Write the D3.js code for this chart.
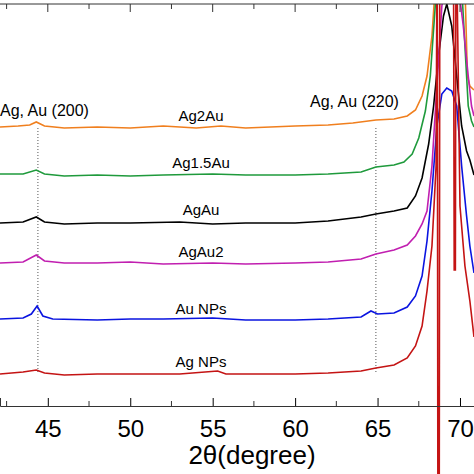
<!DOCTYPE html>
<meta charset="utf-8">
<style>
body { margin:0; background:#fff; }
svg text { font-family: Arial, "Liberation Sans", sans-serif; }
</style>
<body>
<div id="chart"></div>
<script src="https://d3js.org/d3.v7.min.js"></script>
<script>
// XRD patterns, [2theta, intensity (arb., stacked offset included)]
var ag2au   = [[42.1,279],[43.2,280],[43.9,281],[44.3,284],[44.8,280],[46,278],[48,279],[50,278],[52,280],[54,278],[55.5,280],[57,278],[60,280],[62,281],[63.5,283],[64.9,286],[66,287],[66.8,290],[67.3,296],[67.7,310],[68.0,330],[68.3,370],[68.5,420],[70.3,420],[70.45,330],[70.6,320],[70.85,316]];
var ag15au  = [[42.1,232],[43.5,232],[44.3,236],[44.8,232],[46,230],[48,231],[50,230],[52,231],[55,232],[57,231],[60,231],[62,232],[64,234],[64.9,239],[66,241],[66.6,244],[67.1,252],[67.5,268],[67.9,295],[68.2,330],[68.5,400],[68.7,420],[70.1,420],[70.3,360],[70.5,300],[70.7,285],[70.85,279]];
var agau    = [[42.1,183],[43.5,184],[44.3,189],[44.8,184],[46,182],[48,183],[50,183],[53,184],[55,182],[57,183],[60,183],[62,185],[64,189],[64.9,192],[66,195],[66.8,198],[67.3,210],[67.7,228],[68.1,262],[68.4,300],[68.7,350],[69.0,390],[69.2,402],[69.5,380],[69.8,330],[70.1,280],[70.4,255],[70.6,246],[70.85,231]];
var agau2   = [[42.1,143],[43.5,144],[44.3,151],[44.8,145],[46,143],[48,143],[50,144],[52,142],[55,143],[57,142],[60,143],[62,144],[64,147],[64.9,152],[66,156],[66.8,161],[67.3,170],[67.7,182],[68.0,195],[68.3,240],[68.6,320],[68.9,400],[69.1,420],[69.9,420],[70.2,380],[70.5,330],[70.7,300],[70.85,290]];
var auNPs   = [[42.1,87],[43.5,88],[44.0,92],[44.35,100],[44.7,90],[45.3,87],[48,86],[50,87],[52,87],[55,88],[57,86],[60,86],[62,87],[64,89],[64.6,95],[65,92],[66,93],[66.8,99],[67.3,110],[67.7,130],[68.0,165],[68.3,215],[68.6,280],[68.9,312],[69.2,318],[69.5,315],[69.8,300],[70.1,240],[70.4,190],[70.6,160],[70.85,133]];
var agNPs   = [[42.1,32],[43.5,34],[44.3,36],[44.8,33],[46,31],[48,32],[50,32],[53,32],[55.3,35],[55.8,32],[58,32],[60,32],[62,33],[64,35],[64.9,38],[66,41],[66.8,48],[67.3,60],[67.7,80],[68.0,115],[68.3,160],[68.55,240],[68.62,500],[68.66,-120],[68.74,-120],[68.78,500],[69.6,500],[69.65,136],[69.72,136],[69.76,500],[70.0,200],[70.3,140],[70.6,105],[70.85,69]];

var series = [ag2au, ag15au, agau, agau2, auNPs, agNPs];
var colors = ["#f07f1e", "#1f9a3c", "#000000", "#c11fb0", "#0a14e0", "#c41414"];
var names  = ["Ag2Au", "Ag1.5Au", "AgAu", "AgAu2", "Au NPs", "Ag NPs"];
var nameY  = [285, 238, 191, 149, 92, 39];   // intensity where the label sits
var peakLines = [44.4, 64.9];
var xTicks = [45, 50, 55, 60, 65, 70];

var W = 474, H = 474;
var x = d3.scaleLinear().domain([42.1, 70.85]).range([0, 474]);
var y = d3.scaleLinear().domain([0, 402]).range([406, 4]);

var svg = d3.select("#chart").append("svg").attr("width", W).attr("height", H);

svg.append("clipPath").attr("id", "clip").append("rect")
    .attr("x", 0).attr("y", 4).attr("width", W).attr("height", H - 4);

// dotted reference lines
svg.selectAll(".ref").data(peakLines).enter().append("line")
    .attr("x1", d => x(d)).attr("x2", d => x(d))
    .attr("y1", y(278)).attr("y2", y(34))
    .attr("stroke", "#555").attr("stroke-width", 1).attr("stroke-dasharray", "1,2");

var line = d3.line().x(d => x(d[0])).y(d => y(d[1]));
svg.append("g").attr("clip-path", "url(#clip)")
  .selectAll("path").data(series).enter().append("path")
    .attr("d", line).attr("fill", "none")
    .attr("stroke", (d, i) => colors[i]).attr("stroke-width", 1.6);

// frame: top + bottom
svg.append("line").attr("x1", 0).attr("x2", W).attr("y1", 4).attr("y2", 4).attr("stroke", "#333");
var xAxis = svg.append("g").attr("transform", "translate(0,406)")
    .call(d3.axisBottom(x).tickValues(xTicks).tickSize(-8).tickPadding(14).tickFormat(d3.format("d")));
xAxis.select(".domain").attr("stroke", "#333");
xAxis.selectAll("text").attr("font-size", 24).attr("fill", "#000").attr("font-family", "Arial, Liberation Sans");
var minors = [42.5, 47.5, 52.5, 57.5, 62.5, 67.5];
svg.selectAll(".mb").data(minors).enter().append("line")
    .attr("x1", d => x(d)).attr("x2", d => x(d)).attr("y1", 406).attr("y2", 401).attr("stroke", "#333");
svg.selectAll(".mt").data(minors.concat(xTicks)).enter().append("line")
    .attr("x1", d => x(d)).attr("x2", d => x(d)).attr("y1", 4)
    .attr("y2", d => minors.indexOf(d) >= 0 ? 9 : 12).attr("stroke", "#333");

svg.append("text").attr("x", 252).attr("y", 464).attr("text-anchor", "middle")
    .attr("font-size", 26).text("2θ(degree)");

svg.selectAll(".nm").data(names).enter().append("text")
    .attr("x", 201).attr("y", (d, i) => y(nameY[i])).attr("text-anchor", "middle")
    .attr("font-size", 15).text(d => d);

svg.append("text").attr("x", 0).attr("y", 116).attr("font-size", 16).text("Ag, Au (200)");
svg.append("text").attr("x", 310).attr("y", 107).attr("font-size", 16).text("Ag, Au (220)");
</script>
